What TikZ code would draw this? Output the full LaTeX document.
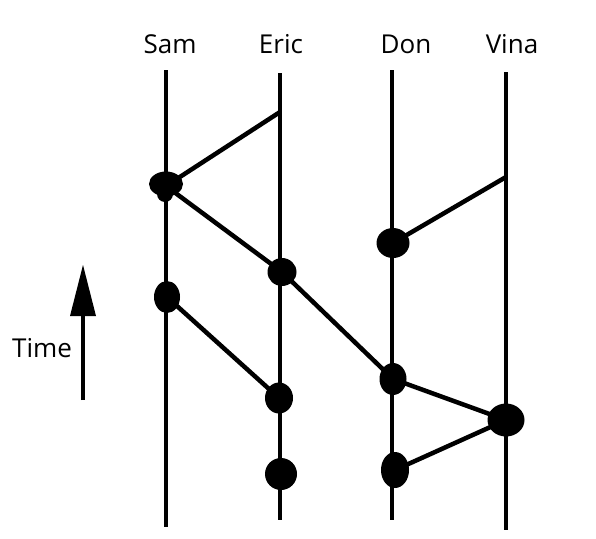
\documentclass[tikz,border=0pt]{standalone}
\usepackage{fontspec}
\setmainfont{Open Sans}
\usetikzlibrary{shapes.geometric}
\begin{document}
\begin{tikzpicture}[x=1pt,y=-1pt,
  lifeline/.style={line width=4.5pt},
  msg/.style={line width=4.5pt},
  evt/.style={ellipse,fill=black,inner sep=0pt},
  lbl/.style={font=\fontsize{26}{30}\selectfont,anchor=base}]
\useasboundingbox (0,0) rectangle (596,538);
% names
\node[lbl] (nsam) at (170,53) {Sam};
\node[lbl] (neric) at (281,53) {Eric};
\node[lbl] (ndon) at (406,53) {Don};
\node[lbl] (nvina) at (512,53) {Vina};
% lifeline ends
\coordinate (samT) at (166,70); \coordinate (samB) at (166,527);
\coordinate (ericT) at (280,73); \coordinate (ericB) at (280,520);
\coordinate (donT) at (392,70); \coordinate (donB) at (392,520);
\coordinate (vinaT) at (506,72); \coordinate (vinaB) at (506,530);
\draw[lifeline] (samT) -- (samB);
\draw[lifeline] (ericT) -- (ericB);
\draw[lifeline] (donT) -- (donB);
\draw[lifeline] (vinaT) -- (vinaB);
% event positions
\coordinate (e0) at (280,112);
\coordinate (v0) at (506,177);
\coordinate (p1) at (166,186);
\coordinate (p2) at (282,272);
\coordinate (p3) at (167,297);
\coordinate (p4) at (393,243);
\coordinate (p5) at (279,398);
\coordinate (p6) at (393,379);
\coordinate (p7) at (506,420);
\coordinate (p8) at (281,474);
\coordinate (p9) at (395,470);
% messages
\draw[msg] (e0) -- (p1);
\draw[msg] (p1) -- (p2) -- (p6);
\draw[msg] (p3) -- (p5);
\draw[msg] (v0) -- (p4);
\draw[msg] (p6) -- (p7) -- (p9);
% events
\node[evt,minimum width=34pt,minimum height=25pt] (d1) at (166,184) {};
\node[evt,minimum width=16pt,minimum height=16pt] (d1b) at (165,194) {};
\node[evt,minimum width=29pt,minimum height=28pt] (d2) at (p2) {};
\node[evt,minimum width=26pt,minimum height=32pt] (d3) at (p3) {};
\node[evt,minimum width=33pt,minimum height=30pt] (d4) at (p4) {};
\node[evt,minimum width=28pt,minimum height=31pt] (d5) at (p5) {};
\node[evt,minimum width=27pt,minimum height=32pt] (d6) at (p6) {};
\node[evt,minimum width=37pt,minimum height=33pt] (d7) at (p7) {};
\node[evt,minimum width=32pt,minimum height=32pt] (d8) at (p8) {};
\node[evt,minimum width=28pt,minimum height=36pt] (d9) at (p9) {};
% time arrow
\node[lbl] (ntime) at (42,357) {Time};
\coordinate (tB) at (83,400);
\coordinate (tS) at (83,312);
\draw[line width=4.5pt] (tB) -- (tS);
\fill (83,265) -- (96,316) -- (70,316) -- cycle;
\end{tikzpicture}
\end{document}
